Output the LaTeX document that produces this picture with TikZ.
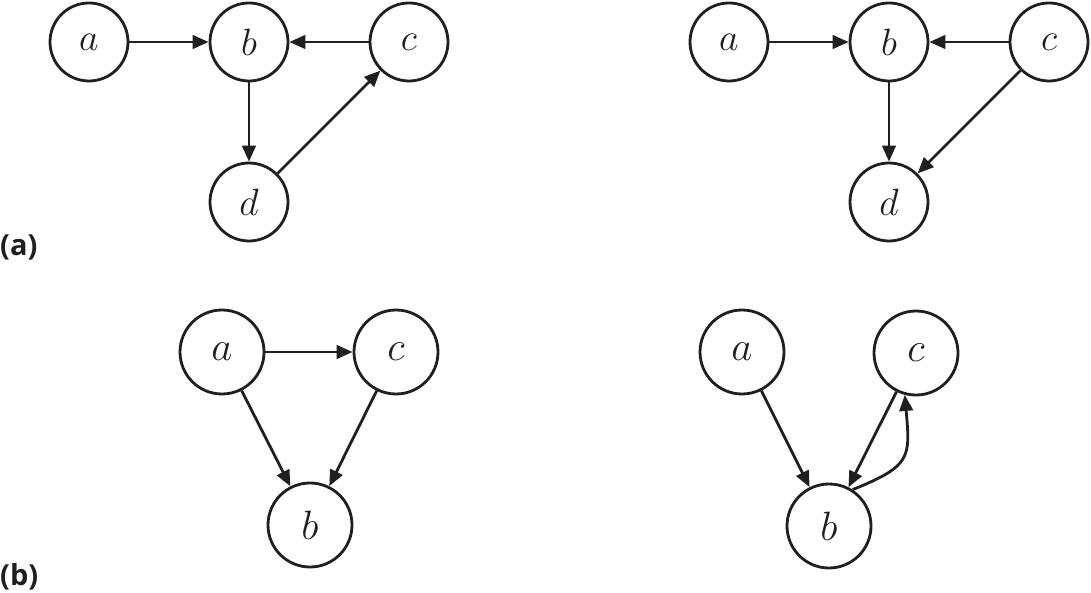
\documentclass[tikz,border=0pt]{standalone}
\usepackage{fix-cm}
\usepackage{fontspec}
\newfontfamily\labfont{Open Sans}
\usetikzlibrary{arrows.meta}
\tikzset{
  vtx/.style={circle, draw, line width=2.8pt, minimum size=78pt, inner sep=0pt, font=\fontsize{38}{40}\selectfont},
  vtxb/.style={vtx, minimum size=84pt, font=\fontsize{41}{44}\selectfont},
  arr/.style={line width=2.8pt, -{Triangle[length=16pt,width=13.5pt]}},
  lab/.style={anchor=base west, inner sep=0pt, font=\labfont\bfseries\fontsize{29}{32}\selectfont}
}
\begin{document}
\begin{tikzpicture}[x=1pt,y=-1pt, color={black!88}]
\useasboundingbox (0,0) rectangle (1091,593);
% (a) left
\node[vtx] (a1) at (89,42) {$a$};
\node[vtx] (b1) at (249,42) {$b$};
\node[vtx] (c1) at (409,42) {$c$};
\node[vtx] (d1) at (249,202) {$d$};
\draw[arr] (a1) -- (b1);
\draw[arr] (c1) -- (b1);
\draw[arr] (b1) -- (d1);
\draw[arr] (d1) -- (c1);
% (a) right
\node[vtx] (a2) at (729,42) {$a$};
\node[vtx] (b2) at (889,42) {$b$};
\node[vtx] (c2) at (1049,42) {$c$};
\node[vtx] (d2) at (889,202) {$d$};
\draw[arr] (a2) -- (b2);
\draw[arr] (c2) -- (b2);
\draw[arr] (b2) -- (d2);
\draw[arr] (c2) -- (d2);
\node[lab] (la) at (0,256) {(a)};
% (b) left
\node[vtxb] (a3) at (222,352) {$a$};
\node[vtxb] (c3) at (396,352) {$c$};
\node[vtxb] (b3) at (310,525) {$b$};
\draw[arr] (a3) -- (c3);
\draw[arr] (a3) -- (b3);
\draw[arr] (c3) -- (b3);
% (b) right
\node[vtxb] (a4) at (742,352) {$a$};
\node[vtxb] (c4) at (916,353) {$c$};
\node[vtxb] (b4) at (829,526) {$b$};
\draw[arr] (a4) -- (b4);
\draw[arr] (c4) -- (b4);
\draw[arr] (b4.57) to[out=22, in=-85, looseness=1.5] (c4.255);
\node[lab] (lb) at (0,585) {(b)};
\end{tikzpicture}
\end{document}
